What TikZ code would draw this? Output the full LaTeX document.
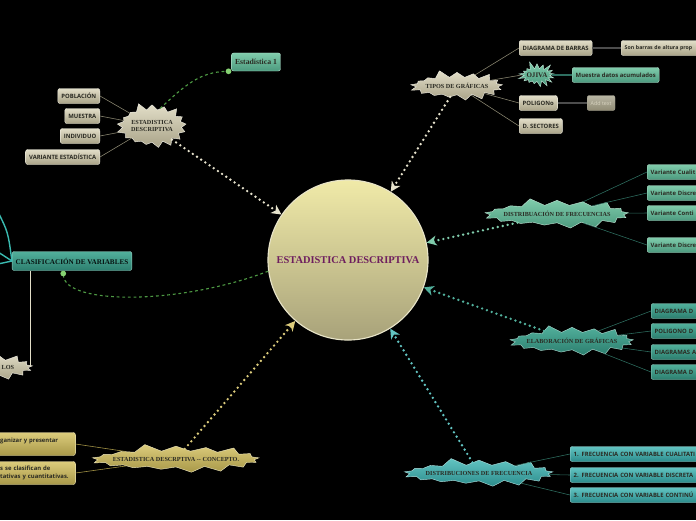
\documentclass[tikz,border=0pt]{standalone}
\usepackage{fontspec}
\setmainfont{Open Sans}
\newfontfamily\headfont{Liberation Serif}
\usetikzlibrary{arrows.meta, positioning, shapes.symbols}
\definecolor{creamtop}{HTML}{E2DEC8}
\definecolor{creambot}{HTML}{A9A388}
\definecolor{creamline}{HTML}{8C8872}
\definecolor{dotcream}{HTML}{E6E2CC}
\definecolor{minttop}{HTML}{80CCAC}
\definecolor{mintbot}{HTML}{4C9A7E}
\definecolor{teatop}{HTML}{52B09C}
\definecolor{teabot}{HTML}{2C7E6E}
\definecolor{cyantop}{HTML}{62C4C2}
\definecolor{cyanbot}{HTML}{2C8C8C}
\definecolor{goldtop}{HTML}{DCCC7C}
\definecolor{goldbot}{HTML}{A89848}
\definecolor{hubtop}{HTML}{F0EAA8}
\definecolor{hubbot}{HTML}{A8A27A}
\definecolor{hubline}{HTML}{E8E4C8}
\definecolor{plum}{HTML}{6E1E5E}
\definecolor{inkdark}{HTML}{2A2A22}
\definecolor{tealine}{HTML}{2E6E60}
\definecolor{leafgreen}{HTML}{4E9A44}
\definecolor{leafdot}{HTML}{86D272}
\definecolor{sidecyan}{HTML}{3ABAB0}

\tikzset{
  topicbox/.style={rounded corners=1.5pt, draw=#1top!60!white, line width=0.3pt,
    top color=#1top, bottom color=#1bot, minimum height=0.375cm,
    inner xsep=2.5pt, inner ysep=1pt, font=\fontsize{4.2}{5.2}\selectfont\bfseries, text=inkdark},
  burst/.style={starburst, starburst points=17, starburst point height=0.2cm, random starburst=5,
    inner xsep=-4pt, inner ysep=2.5pt, draw=#1top!50!white, line width=0.3pt,
    top color=#1top, bottom color=#1bot, font=\headfont\bfseries\fontsize{4.4}{5.4}\selectfont, text=inkdark},
  hub/.style={circle, minimum size=4cm, draw=hubline, line width=0.8pt, top color=hubtop, bottom color=hubbot,
    font=\headfont\bfseries\fontsize{7.4}{9}\selectfont, text=plum},
  dotlink/.style={#1, line width=1.9pt, dash pattern=on 0pt off 3.6pt, line cap=round,
    -{Stealth[length=7pt, width=7pt, inset=2pt]}},
  twig/.style={#1, line width=0.4pt},
  leaflink/.style={leafgreen, line width=0.8pt, dash pattern=on 2pt off 2pt, -{Circle[length=4pt, color=leafdot]}},
  clipbox/.style={anchor=west, text width=#1, align=left}
}

\begin{document}
\begin{tikzpicture}[x=0.025cm, y=-0.025cm]

% Background
\fill[black] (0,0) rectangle (696,520);
\clip (0,0) rectangle (696,520);

% Central topic
\node[hub] (hub) at (348,260) {ESTADISTICA DESCRIPTIVA};

% Branch: estadistica descriptiva
\node[burst=cream, align=center, inner xsep=0pt, inner ysep=4pt] (estdesc) at (152,126) {ESTADISTICA\\DESCRIPTIVA};
\node[topicbox=cream, anchor=east] (poblacion) at (100,96) {POBLACIÓN};
\node[topicbox=cream, anchor=east] (muestra) at (100,116) {MUESTRA};
\node[topicbox=cream, anchor=east] (individuo) at (100,136) {INDIVIDUO};
\node[topicbox=cream, anchor=east] (variante) at (100,157) {VARIANTE ESTADÍSTICA};
\foreach \leaf in {poblacion, muestra, individuo, variante}
  \draw[twig=creamline] (\leaf.east) -- (estdesc);
\node[topicbox=mint, font=\headfont\bfseries\fontsize{5.5}{6}\selectfont, minimum height=0.45cm] (estuno) at (256,62) {Estadística 1};
\draw[leaflink] (estdesc.65) .. controls (185,85) and (200,72) .. (estuno.south west);
\draw[dotlink=dotcream] (estdesc) -- (hub);

% Branch: tipos de graficas
\node[burst=cream, inner xsep=-1.6pt] (tipos) at (457,86) {TIPOS DE GRÁFICAS};
\node[topicbox=cream, anchor=west] (barras) at (519,48) {DIAGRAMA DE BARRAS};
\node[topicbox=cream, clipbox=3cm, font=\fontsize{3.7}{5}\selectfont\bfseries] (sonbarras) at (621,48) {Son barras de altura prop};
\node[burst=mint, font=\headfont\bfseries\fontsize{5}{6}\selectfont, inner xsep=-1pt, inner ysep=1.5pt] (ojiva) at (537,75) {OJIVA};
\node[topicbox=mint, anchor=west] (acumula) at (572,75) {Muestra datos acumulados};
\node[topicbox=cream, anchor=west] (poligono) at (519,103) {POLIGONo};
\node[topicbox=cream, anchor=west, top color=creamtop!82!black, bottom color=creambot!85!black,
  draw=creamtop!75!black, text=creamtop!96!black, font=\fontsize{3.8}{5}\selectfont] (addtext) at (587,103) {Add text};
\node[topicbox=cream, anchor=west] (sectores) at (519,126) {D. SECTORES};
\foreach \leaf in {barras, ojiva, poligono, sectores}
  \draw[twig=creamline] (tipos) -- (\leaf.west);
\draw[twig=black!70!white, line width=0.8pt] (barras) -- (sonbarras);
\draw[twig=tealine, line width=1.2pt] (ojiva) -- (acumula);
\draw[twig=black!70!white, line width=0.8pt] (poligono) -- (addtext);
\draw[dotlink=dotcream] (tipos) -- (hub);

% Branch: distribucion de frecuencias
\node[burst=mint, inner xsep=-4.3pt] (distfrec) at (557,214) {DISTRIBUACIÓN DE FRECUENCIAS};
\node[topicbox=mint, clipbox=2.5cm] (cualit) at (647,172) {Variante Cualit};
\node[topicbox=mint, clipbox=2.5cm] (discre) at (647,193) {Variante Discre};
\node[topicbox=mint, clipbox=2.5cm] (conti) at (647,213) {Variante Conti};
\node[topicbox=mint, clipbox=2.5cm] (discrb) at (647,245) {Variante Discre};
\foreach \leaf in {cualit, discre, conti, discrb}
  \draw[twig=tealine] (distfrec) -- (\leaf.west);
\draw[dotlink=minttop] (distfrec) -- (hub);

% Branch: elaboracion de graficas
\node[burst=tea, inner xsep=-3.6pt] (elabora) at (572,341) {ELABORACIÓN DE GRÁFICAS};
\node[topicbox=tea, clipbox=2.5cm] (diagd) at (651,311) {DIAGRAMA D};
\node[topicbox=tea, clipbox=2.5cm] (polid) at (651,331) {POLIGONO D};
\node[topicbox=tea, clipbox=2.5cm] (diaga) at (651,352) {DIAGRAMAS A};
\node[topicbox=tea, clipbox=2.5cm] (diage) at (651,372) {DIAGRAMA D};
\foreach \leaf in {diagd, polid, diaga, diage}
  \draw[twig=tealine] (elabora) -- (\leaf.west);
\draw[dotlink=teatop] (elabora) -- (hub);

% Branch: distribuciones de frecuencia
\node[burst=cyan, inner xsep=-2.9pt] (distribs) at (479,473) {DISTRIBUCIONES DE FRECUENCIA};
\node[topicbox=cyan, clipbox=4cm] (frecuno) at (570,454) {1. FRECUENCIA CON VARIABLE CUALITATI};
\node[topicbox=cyan, clipbox=4cm] (frecdos) at (570,475) {2. FRECUENCIA CON VARIABLE DISCRETA};
\node[topicbox=cyan, clipbox=4cm] (frectres) at (570,495) {3. FRECUENCIA CON VARIABLE CONTINÚ};
\foreach \leaf in {frecuno, frecdos, frectres}
  \draw[twig=tealine] (distribs) -- (\leaf.west);
\draw[dotlink=cyantop] (distribs) -- (hub);

% Branch: concepto
\node[burst=gold, inner xsep=-5.3pt] (concepto) at (176,459) {ESTADISTICA DESCRPTIVA -- CONCEPTO.};
\node[topicbox=gold, clipbox=1.79cm, minimum height=0.575cm] (organiza) at (-3.5,444) {ganizar y presentar\\\mbox{}};
\node[topicbox=gold, clipbox=1.79cm, minimum height=0.575cm] (clasifica) at (-3.5,473) {s se clasifican de\\tativas y cuantitativas.};
\draw[twig=goldbot] (organiza.east) -- (concepto);
\draw[twig=goldbot] (clasifica.east) -- (concepto);
\draw[dotlink=goldtop] (concepto) -- (hub);

% Branch: clasificacion de variables
\node[topicbox=tea, font=\headfont\bfseries\fontsize{5.1}{6}\selectfont, minimum height=0.475cm, text=black!85!teabot] (clasif) at (72,261) {CLASIFICACIÓN DE VARIABLES};
\coordinate (offa) at (-2,212);
\coordinate (offb) at (-2,252);
\coordinate (offc) at (-2,264);
\draw[sidecyan, line width=1pt] (offa) .. controls (8,232) .. (clasif.west);
\draw[sidecyan, line width=1pt] (offb) -- (clasif.west);
\draw[sidecyan, line width=1pt] (offc) -- (clasif.west);
\node[burst=cream, text width=1.7cm, align=right, inner xsep=0pt] (titulos) at (-20,367) {LOS};
\draw[creamtop, line width=0.8pt] (titulos.east |- clasif.south) -- (titulos.east);
\draw[leaflink] (hub.188) .. controls (180,305) and (66,305) .. ([xshift=-0.225cm]clasif.south);

\end{tikzpicture}
\end{document}
